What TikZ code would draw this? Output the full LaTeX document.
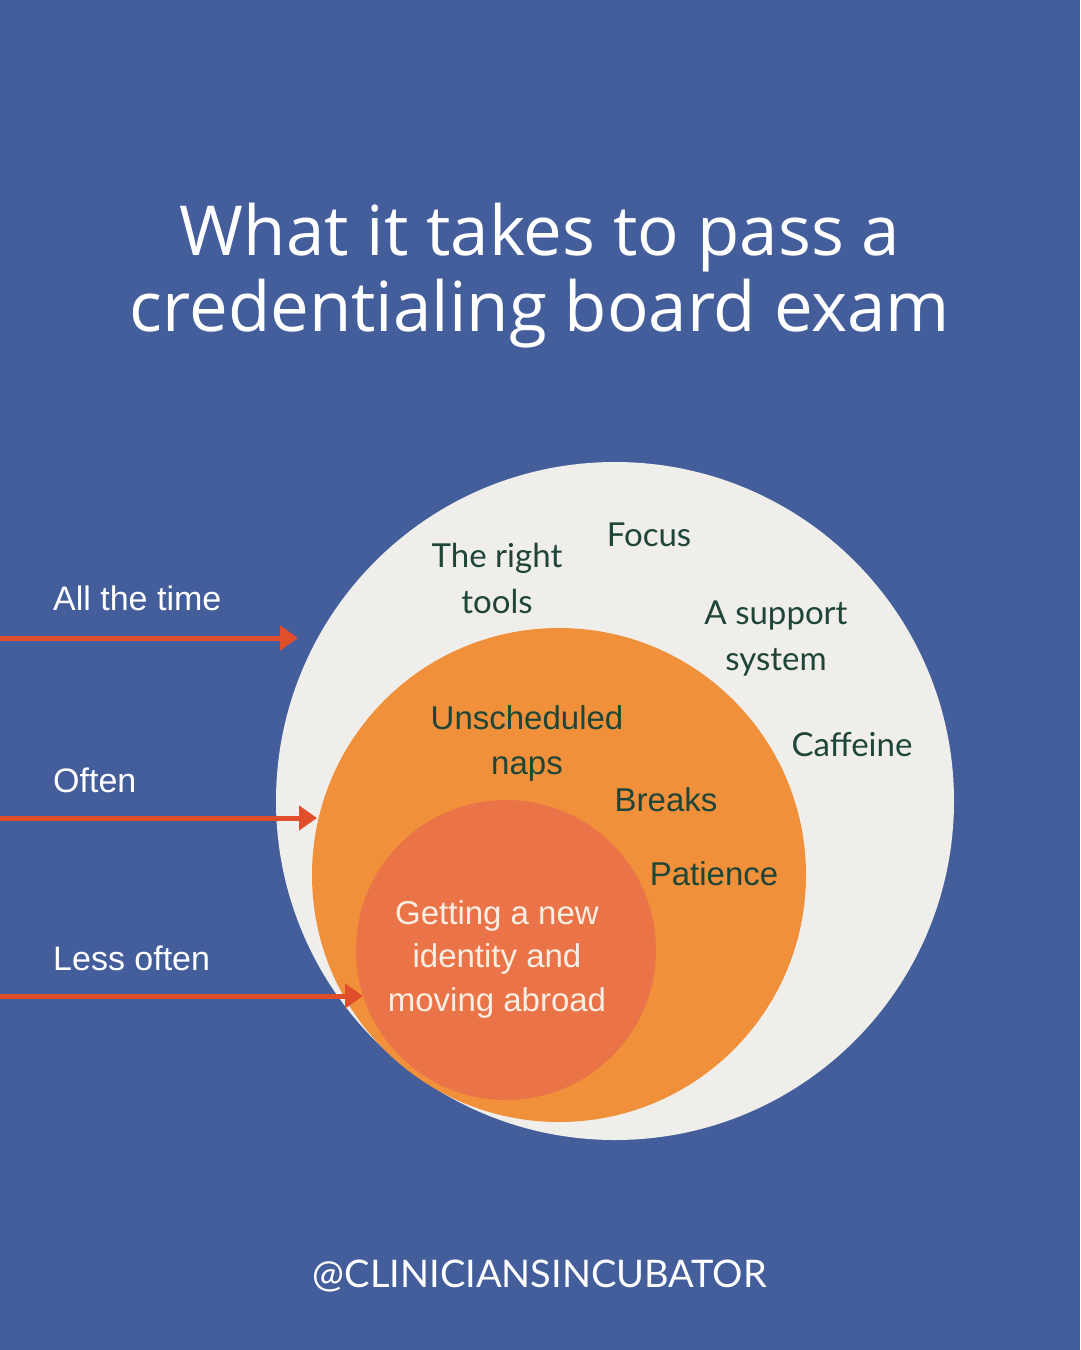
\documentclass[tikz,border=0pt]{standalone}
\usepackage{fontspec}
\setmainfont{Liberation Sans}
\newfontfamily\latofont{Lato}
\newfontfamily\titlefont{Open Sans}
\usetikzlibrary{arrows.meta}
\definecolor{bgblue}{HTML}{445E9B}
\definecolor{cream}{HTML}{F0EEEB}
\definecolor{orangemid}{HTML}{F0903A}
\definecolor{orangein}{HTML}{EA7448}
\definecolor{arrowred}{HTML}{E04E2C}
\definecolor{darkgreen}{HTML}{1E4538}
\definecolor{paletext}{HTML}{F8EEE4}
\tikzset{
  sidelabel/.style={anchor=west, text=white, font=\fontsize{34}{40}\selectfont, inner sep=0pt},
  outertext/.style={align=center, text=darkgreen, font=\latofont\fontsize{33}{46}\selectfont, inner sep=0pt},
  midtext/.style={align=center, text=darkgreen, font=\fontsize{33}{45}\selectfont, inner sep=0pt},
  innertext/.style={align=center, text=paletext, font=\fontsize{33}{43.5}\selectfont, inner sep=0pt},
  levelarrow/.style={draw=arrowred, line width=5pt, -{Triangle[length=18pt,width=24pt]}}
}
\begin{document}
\begin{tikzpicture}[x=1pt,y=-1pt]
\fill[bgblue] (0,0) rectangle (1080,1350);
\useasboundingbox (0,0) rectangle (1080,1350);
% title
\node[text=white, font=\titlefont\fontsize{69}{76}\selectfont, align=center, inner sep=0pt] (title) at (540,276) {What it takes to pass a\\credentialing board exam};
% circles
\node[circle, fill=cream, minimum size=678pt, inner sep=0pt] (outer) at (615,801) {};
\node[circle, fill=orangemid, minimum size=494pt, inner sep=0pt] (mid) at (559,875) {};
\node[circle, fill=orangein, minimum size=300pt, inner sep=0pt] (inner) at (506,950) {};
% outer texts
\node[outertext] (tools) at (497,578) {The right\\tools};
\node[outertext] (focus) at (649,535) {Focus};
\node[outertext] (support) at (776,638) {A support\\system};
\node[outertext] (caffeine) at (852,745) {Caffeine};
% middle texts
\node[midtext] (naps) at (527,743) {Unscheduled\\naps};
\node[midtext] (breaks) at (666,800) {Breaks};
\node[midtext] (patience) at (714,874) {Patience};
% inner text
\node[innertext] (abroad) at (497,959) {Getting a new\\identity and\\moving abroad};
% side labels
\node[sidelabel] (alltime) at (53,598) {All the time};
\node[sidelabel] (often) at (53,780) {Often};
\node[sidelabel] (less) at (53,958) {Less often};
% arrows
\coordinate (s1) at (0,638);
\coordinate (e1) at (298,638);
\coordinate (s2) at (0,818);
\coordinate (e2) at (317,818);
\coordinate (s3) at (0,996);
\coordinate (e3) at (363,996);
\draw[levelarrow] (s1) -- (e1);
\draw[levelarrow] (s2) -- (e2);
\draw[levelarrow] (s3) -- (e3);
% footer
\node[text=white, font=\latofont\fontsize{38}{44}\selectfont, inner sep=0pt] (footer) at (540,1276) {@CLINICIANSINCUBATOR};
\end{tikzpicture}
\end{document}
